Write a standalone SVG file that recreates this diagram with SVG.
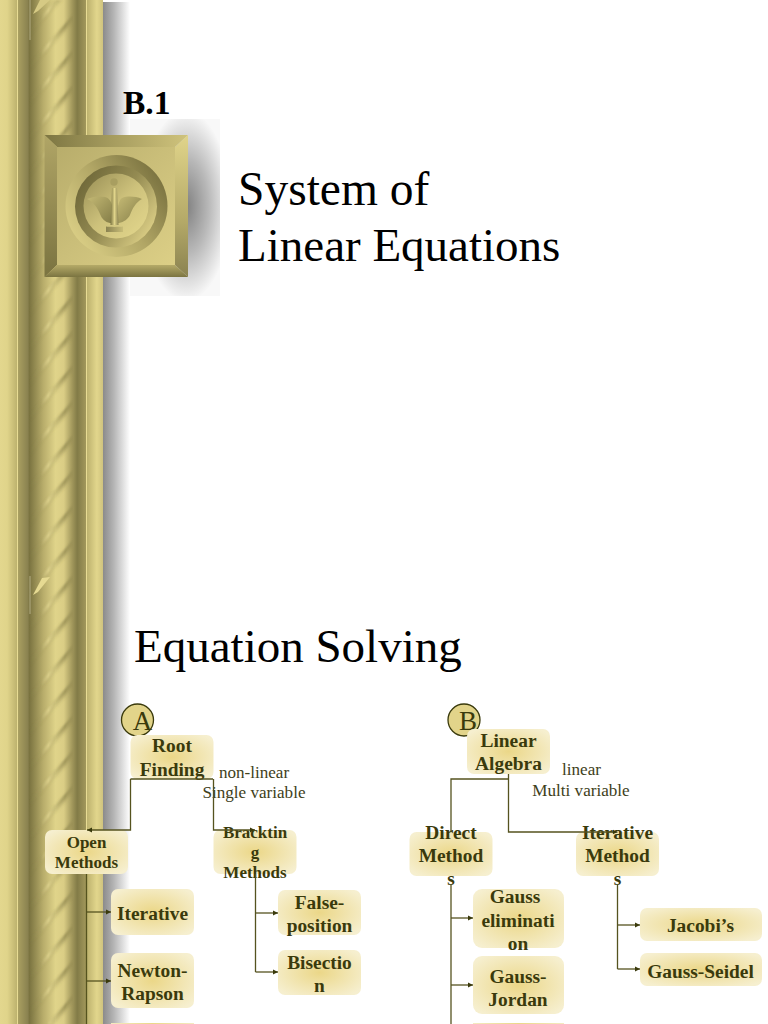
<svg xmlns="http://www.w3.org/2000/svg" width="768" height="1024" viewBox="0 0 768 1024">
<style>
.n{font-family:"Liberation Serif","Times New Roman",serif;font-weight:700;fill:#3a3a0c;text-anchor:middle}
.s{font-size:17px}.m{font-size:19.4px}
.t{font-family:"Liberation Serif","Times New Roman",serif;fill:#000}
.l{font-family:"Liberation Serif","Times New Roman",serif;font-size:17.1px;fill:#40401a;text-anchor:middle}
.c{font-family:"Liberation Serif","Times New Roman",serif;font-size:27px;fill:#3a3a0c;text-anchor:middle}
.box{fill:url(#nodeFill)}
.circ{fill:#e2d48a;stroke:#3a3a0c;stroke-width:1.3}
.w{fill:none;stroke:#55531f;stroke-width:1.3}
.a{fill:none;stroke:#55531f;stroke-width:1.3;marker-end:url(#arr)}
</style>
<defs>
<radialGradient id="nodeFill" cx="50%" cy="50%" r="62%"><stop offset="0" stop-color="#ebd788"/><stop offset="1" stop-color="#f6efcf"/></radialGradient>
<marker id="arr" markerUnits="userSpaceOnUse" markerWidth="6" markerHeight="6" refX="5" refY="3" orient="auto"><path d="M0 .5L5 3L0 5.500z" fill="#3a3a0c"/></marker>
<linearGradient id="col" gradientUnits="userSpaceOnUse" x1="0" y1="0" x2="103" y2="0">
<stop offset="0" stop-color="#e3d78e"/><stop offset=".07" stop-color="#e0d48a"/><stop offset=".165" stop-color="#bdb26e"/><stop offset=".18" stop-color="#a89e60"/><stop offset=".27" stop-color="#8a8250"/><stop offset=".285" stop-color="#7a7340"/><stop offset=".42" stop-color="#b8ad6b"/><stop offset=".54" stop-color="#e0d48a"/><stop offset=".62" stop-color="#dacd85"/><stop offset=".70" stop-color="#a2985c"/><stop offset=".75" stop-color="#827b47"/><stop offset=".83" stop-color="#a0965a"/><stop offset=".845" stop-color="#bdb26e"/><stop offset=".94" stop-color="#e2d68c"/><stop offset="1" stop-color="#cfc37e"/>
</linearGradient>
<linearGradient id="shad" x1="0" x2="1" y1="0" y2="0"><stop offset="0" stop-color="#8b8b8b"/><stop offset=".4" stop-color="#b5b5b5"/><stop offset="1" stop-color="#fff"/></linearGradient>
<radialGradient id="shad2" gradientUnits="userSpaceOnUse" cx="0" cy="0" r="1" gradientTransform="translate(186 206) scale(45 95)"><stop offset="0" stop-color="#808080"/><stop offset=".5" stop-color="#b8b8b8"/><stop offset="1" stop-color="#f8f8f8"/></radialGradient>
<linearGradient id="fadeDark" gradientUnits="userSpaceOnUse" x1="29" x2="73" y1="0" y2="0"><stop offset="0" stop-color="#000"/><stop offset=".3" stop-color="#333"/><stop offset=".6" stop-color="#555"/><stop offset=".82" stop-color="#bbb"/><stop offset="1" stop-color="#333"/></linearGradient>
<linearGradient id="fadeHi" gradientUnits="userSpaceOnUse" x1="29" x2="73" y1="0" y2="0"><stop offset="0" stop-color="#000"/><stop offset=".27" stop-color="#111"/><stop offset=".44" stop-color="#aaa"/><stop offset=".58" stop-color="#222"/><stop offset=".72" stop-color="#000"/></linearGradient>
<mask id="mDark" maskUnits="userSpaceOnUse" x="29" y="0" width="44" height="1024"><rect x="29" y="0" width="44" height="1024" fill="url(#fadeDark)"/></mask>
<mask id="mHi" maskUnits="userSpaceOnUse" x="29" y="0" width="44" height="1024"><rect x="29" y="0" width="44" height="1024" fill="url(#fadeHi)"/></mask>
<pattern id="ropeD" patternUnits="userSpaceOnUse" width="100" height="23.2" patternTransform="translate(48 323) rotate(-48.5)">
<rect x="0" y="0" width="100" height="3.500" fill="#756e3c" opacity=".75"/>
<rect x="0" y="3.500" width="100" height="2" fill="#756e3c" opacity=".3"/>
</pattern>
<pattern id="ropeH" patternUnits="userSpaceOnUse" width="100" height="23.2" patternTransform="translate(48 323) rotate(-48.5)">
<rect x="0" y="0" width="100" height="3.500" fill="#efe39c"/>
</pattern>
<filter id="bl" x="-10%" y="-10%" width="120%" height="120%"><feGaussianBlur stdDeviation="1"/></filter>
<linearGradient id="bT" x1="0" x2="1" y1="0" y2="0"><stop offset="0" stop-color="#7d7642"/><stop offset=".5" stop-color="#a89e60"/><stop offset="1" stop-color="#cfc37c"/></linearGradient>
<linearGradient id="bL" x1="0" x2="0" y1="0" y2="1"><stop offset="0" stop-color="#b0a566"/><stop offset="1" stop-color="#7a7340"/></linearGradient>
<linearGradient id="bR" x1="0" x2="0" y1="0" y2="1"><stop offset="0" stop-color="#e0d48a"/><stop offset=".6" stop-color="#b5aa68"/><stop offset="1" stop-color="#8a8250"/></linearGradient>
<linearGradient id="bB" x1="0" x2="0" y1="0" y2="1"><stop offset="0" stop-color="#b5aa68"/><stop offset="1" stop-color="#7b7441"/></linearGradient>
<linearGradient id="face" x1="0" x2="1" y1="0" y2="1"><stop offset="0" stop-color="#b8ad6b"/><stop offset=".5" stop-color="#cbbf7a"/><stop offset="1" stop-color="#dccf86"/></linearGradient>
<linearGradient id="c1" x1="0" x2="1" y1=".85" y2=".15"><stop offset="0" stop-color="#e0d48a"/><stop offset=".5" stop-color="#b2a766"/><stop offset="1" stop-color="#716a3a"/></linearGradient>
<linearGradient id="c2" x1=".05" x2=".95" y1=".2" y2=".8"><stop offset="0" stop-color="#6f6839"/><stop offset=".5" stop-color="#948b52"/><stop offset="1" stop-color="#dccf86"/></linearGradient>
<linearGradient id="c3" x1=".1" x2=".9" y1=".1" y2=".9"><stop offset="0" stop-color="#a2985c"/><stop offset=".5" stop-color="#cdc17b"/><stop offset="1" stop-color="#e0d48a"/></linearGradient>
<linearGradient id="fl" x1="0" x2="1" y1="0" y2="1"><stop offset="0" stop-color="#c4b974"/><stop offset="1" stop-color="#857e48"/></linearGradient>
<linearGradient id="fl2" x1="0" x2="1" y1="0" y2="0"><stop offset="0" stop-color="#7c7542"/><stop offset=".5" stop-color="#e0d48a"/><stop offset="1" stop-color="#8a8250"/></linearGradient>
<linearGradient id="fl3" x1="0" x2="1" y1="0" y2="0"><stop offset="0" stop-color="#8a8250"/><stop offset="1" stop-color="#c8bd78"/></linearGradient>
<clipPath id="shaft"><rect x="29" y="0" width="44" height="1024"/></clipPath>
</defs>

<rect width="768" height="1024" fill="#fff"/>
<rect id="shadow-col" x="103" y="2" width="27" height="1022" fill="url(#shad)"/>
<rect id="shadow-emblem" x="130" y="119" width="90" height="177" fill="url(#shad2)"/>
<rect id="column" x="0" y="0" width="103" height="1024" fill="url(#col)"/>
<g clip-path="url(#shaft)">
<rect x="29" y="0" width="44" height="1024" fill="url(#ropeD)" mask="url(#mDark)" filter="url(#bl)"/>
<rect x="29" y="0" width="44" height="1024" fill="url(#ropeH)" mask="url(#mHi)" filter="url(#bl)"/>
</g>
<rect x="17" y="0" width="1" height="1024" fill="#e8dc94"/>
<rect x="86" y="0" width="1" height="1024" fill="#e8dc94"/>
<rect x="29.500" y="0" width="1" height="40" fill="#c9c3a0" opacity=".7"/>
<rect x="29.500" y="576" width="1" height="38" fill="#c9c3a0" opacity=".7"/>
<path d="M33 595L42 578L50 577L38 592Z" fill="#e6da92"/>
<path d="M33 14L40 0L50 0L38 11Z" fill="#d6ca84"/>

<g id="emblem">
<polygon points="44.500,135 188,135 175,147 57,147" fill="url(#bT)"/>
<polygon points="44.500,135 57,147 57,265 44.500,277" fill="url(#bL)"/>
<polygon points="188,135 175,147 175,265 188,277" fill="url(#bR)"/>
<polygon points="44.500,277 57,265 175,265 188,277" fill="url(#bB)"/>
<rect x="57" y="147" width="118" height="118" fill="url(#face)"/>
<circle cx="116.500" cy="206" r="51" fill="url(#c1)"/>
<circle cx="116" cy="206.500" r="41" fill="url(#c2)"/>
<circle cx="116" cy="206" r="32.500" fill="url(#c3)"/>
<path d="M87 199C94 196 101 196 105 197C109 198 111 201 112 205L112 223L110 223C105 222 102 219 100 214C98 209 94 202 87 199Z" fill="url(#fl)"/>
<path d="M142 199C135 196 127 196 122 198C120 199 119 202 118 206L118 223L119 223C124 222 128 219 130 215C132 209 136 202 142 199Z" fill="url(#fl)"/>
<circle cx="114" cy="182" r="3.700" fill="#a89e60"/>
<path d="M112 188H117L118.500 225H110.500Z" fill="url(#fl2)"/>
<path d="M106 232V226.500C110 227 119 227 123 226.500V232Z" fill="url(#fl3)"/>
</g>

<text class="t" x="123" y="114" font-size="33.500" font-weight="700">B.1</text>
<text class="t" x="238" y="205" font-size="47.500">System of</text>
<text class="t" x="238" y="261" font-size="47">Linear Equations</text>
<text class="t" x="134" y="662" font-size="47">Equation Solving</text>

<g id="badge-a"><circle class="circ" cx="137.500" cy="720" r="16"/><text class="c" x="142.500" y="730">A</text></g>
<g id="badge-b"><circle class="circ" cx="464" cy="720" r="16"/><text class="c" x="468" y="730">B</text></g>

<g id="root-finding"><rect class="box" x="130.500" y="735" width="83" height="44" rx="7"/><text class="n m" x="172" y="752">Root</text><text class="n m" x="172" y="776">Finding</text></g>
<g id="open-methods"><rect class="box" x="45" y="830" width="83" height="44" rx="7"/><text class="n s" x="86.500" y="848">Open</text><text class="n s" x="86.500" y="868">Methods</text></g>
<g id="bracketing"><rect class="box" x="213.500" y="830" width="83" height="44" rx="7"/><text class="n s" x="255" y="838">Bracktin</text><text class="n s" x="255" y="858">g</text><text class="n s" x="255" y="878">Methods</text></g>
<g id="iterative-a"><rect class="box" x="111" y="889" width="83" height="46" rx="7"/><text class="n m" x="152.500" y="919.500">Iterative</text></g>
<g id="newton"><rect class="box" x="111" y="953" width="83" height="55" rx="7"/><text class="n m" x="152.500" y="976.500">Newton-</text><text class="n m" x="152.500" y="999.500">Rapson</text></g>
<g id="false-position"><rect class="box" x="278" y="890" width="83" height="45" rx="7"/><text class="n m" x="319.500" y="908.500">False-</text><text class="n m" x="319.500" y="931.500">position</text></g>
<g id="bisection"><rect class="box" x="278" y="950" width="83" height="45" rx="7"/><text class="n m" x="319.500" y="968.500">Bisectio</text><text class="n m" x="319.500" y="991.500">n</text></g>
<g id="linear-algebra"><rect class="box" x="467" y="729" width="83" height="45" rx="7"/><text class="n m" x="508.500" y="746.500">Linear</text><text class="n m" x="508.500" y="769.500">Algebra</text></g>
<g id="direct"><rect class="box" x="409.500" y="832" width="83" height="44" rx="7"/><text class="n m" x="451" y="838.500">Direct</text><text class="n m" x="451" y="861.500">Method</text><text class="n m" x="451" y="884.500">s</text></g>
<g id="iterative-b"><rect class="box" x="576" y="832" width="83" height="44" rx="7"/><text class="n m" x="617.500" y="838.500">Iterative</text><text class="n m" x="617.500" y="861.500">Method</text><text class="n m" x="617.500" y="884.500">s</text></g>
<g id="gauss-elim"><rect class="box" x="473" y="889" width="91" height="59" rx="9"/><text class="n m" x="515" y="902.500">Gauss</text><text class="n m" x="518" y="926.500">eliminati</text><text class="n m" x="518" y="949.500">on</text></g>
<g id="gauss-jordan"><rect class="box" x="473" y="956" width="91" height="58" rx="9"/><text class="n m" x="518" y="982.500">Gauss-</text><text class="n m" x="518" y="1005.500">Jordan</text></g>
<g id="jacobi"><rect class="box" x="640" y="908" width="122" height="33" rx="7"/><text class="n m" x="700.500" y="931.500">Jacobi’s</text></g>
<g id="gauss-seidel"><rect class="box" x="640" y="953" width="122" height="33" rx="7"/><text class="n m" x="700.500" y="977.500">Gauss-Seidel</text></g>
<g id="cut-a"><rect class="box" x="111" y="1023" width="83" height="1"/></g>
<g id="cut-b"><rect class="box" x="473" y="1023" width="91" height="1"/></g>

<text class="l" x="254" y="778">non-linear</text>
<text class="l" x="254" y="798">Single variable</text>
<text class="l" x="581.500" y="775">linear</text>
<text class="l" x="581" y="796">Multi variable</text>

<g id="connectors">
<path class="w" d="M130.500 779H213"/>
<path class="a" d="M130.500 779V830H87"/>
<path class="a" d="M213.500 779V830H255"/>
<path class="w" d="M86.500 874V1024"/>
<path class="a" d="M86.500 912H111"/>
<path class="a" d="M86.500 981H111"/>
<path class="w" d="M255.500 874V972"/>
<path class="a" d="M255.500 913H278"/>
<path class="a" d="M255.500 972H278"/>
<path class="w" d="M451 832V779H508.500"/>
<path class="a" d="M508.500 774V832H617.500"/>
<path class="w" d="M451 884V1024"/>
<path class="a" d="M451 918H473"/>
<path class="a" d="M451 985H473"/>
<path class="w" d="M617.500 884V969"/>
<path class="a" d="M617.500 925H640"/>
<path class="a" d="M617.500 969H640"/>
</g>
</svg>
